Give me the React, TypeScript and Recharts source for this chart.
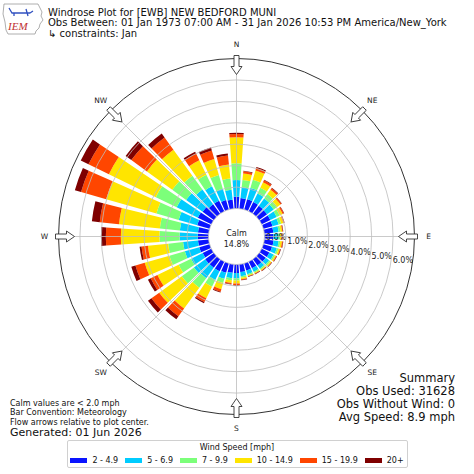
import React from 'react';
import { RadialBarChart, RadialBar, PolarAngleAxis, PolarRadiusAxis } from 'recharts';

// wind direction bins (degrees, meteorological), 10 degree sectors
const DIRS = [
  '0', '10', '20', '30', '40', '50', '60', '70', '80', '90', '100', '110',
  '120', '130', '140', '150', '160', '170', '180', '190', '200', '210', '220', '230',
  '240', '250', '260', '270', '280', '290', '300', '310', '320', '330', '340', '350',
];

const SPEED_BINS = ['2 - 4.9', '5 - 6.9', '7 - 9.9', '10 - 14.9', '15 - 19.9', '20+'];
const COLORS = ['#0a14ff', '#00ccff', '#7cff7a', '#ffe500', '#ff4600', '#7f0000'];

// percent of obs, per direction, per speed bin
const S_2_5 = [
  0.55, 0.5, 0.5, 0.48, 0.47, 0.46, 0.45, 0.44, 0.42, 0.42, 0.43, 0.42,
  0.4, 0.38, 0.36, 0.34, 0.34, 0.36, 0.4, 0.4, 0.45, 0.5, 0.5, 0.5,
  0.45, 0.5, 0.5, 0.5, 0.5, 0.6, 0.7, 0.65, 0.55, 0.55, 0.46, 0.42,
];
const S_5_7 = [
  0.78, 0.5, 0.55, 0.45, 0.42, 0.38, 0.33, 0.3, 0.25, 0.23, 0.24, 0.23,
  0.22, 0.2, 0.19, 0.18, 0.18, 0.2, 0.25, 0.25, 0.3, 0.45, 0.6, 0.65,
  0.6, 0.7, 0.7, 0.85, 0.85, 0.9, 1.1, 0.95, 0.85, 0.75, 0.55, 0.47,
];
const S_7_10 = [
  0.78, 0.35, 0.4, 0.3, 0.25, 0.2, 0.16, 0.12, 0.09, 0.08, 0.08, 0.08,
  0.07, 0.07, 0.06, 0.06, 0.06, 0.07, 0.1, 0.1, 0.2, 0.35, 0.55, 0.7,
  0.65, 0.75, 0.7, 0.94, 0.94, 1.08, 1.08, 0.8, 0.8, 0.6, 0.67, 0.52,
];
const S_10_15 = [
  1.22, 0.3, 0.45, 0.28, 0.25, 0.19, 0.15, 0.11, 0.08, 0.07, 0.08, 0.07,
  0.06, 0.06, 0.05, 0.04, 0.04, 0.07, 0.14, 0.12, 0.3, 0.6, 1.2, 1.3,
  1.1, 1.2, 0.95, 1.8, 1.92, 2.44, 2.44, 1.46, 1.5, 0.75, 0.77, 0.66,
];
const S_15_20 = [
  0.15, 0.1, 0.12, 0.1, 0.08, 0.06, 0.06, 0.04, 0.03, 0.03, 0.04, 0.03,
  0.03, 0.02, 0.02, 0.02, 0.02, 0.03, 0.07, 0.05, 0.12, 0.2, 0.45, 0.45,
  0.35, 0.45, 0.3, 0.7, 0.9, 1.22, 1.06, 0.9, 0.7, 0.35, 0.42, 0.42,
];
const S_20P = [
  0.05, 0.03, 0.05, 0.03, 0.03, 0.02, 0.02, 0.02, 0.02, 0.02, 0.02, 0.02,
  0.02, 0.02, 0.02, 0.02, 0.02, 0.02, 0.03, 0.02, 0.04, 0.06, 0.17, 0.2,
  0.14, 0.2, 0.09, 0.23, 0.37, 0.3, 0.4, 0.33, 0.23, 0.1, 0.14, 0.1,
];
const SERIES = [S_2_5, S_5_7, S_7_10, S_10_15, S_15_20, S_20P];

const COMPASS = ['N', 'NE', 'E', 'SE', 'S', 'SW', 'W', 'NW'];
const PCT_TICKS = [0, 1, 2, 3, 4, 5, 6];
const PCT_MAX = 7;

const TITLE = [
  'Windrose Plot for [EWB] NEW BEDFORD MUNI',
  'Obs Between: 01 Jan 1973 07:00 AM - 31 Jan 2026 10:53 PM America/New_York',
  '\u21b3 constraints: Jan',
];
const SUMMARY = ['Summary', 'Obs Used: 31628', 'Obs Without Wind: 0', 'Avg Speed: 8.9 mph'];
const NOTES = ['Calm values are < 2.0 mph', 'Bar Convention: Meteorology', 'Flow arrows relative to plot center.'];
const CALM = '14.8%';

const data = DIRS.map((dir, i) => {
  const row: Record<string, any> = { dir };
  SERIES.forEach((s, k) => (row[`s${k}`] = s[i]));
  return row;
});

const W = 474;
const CX = 236.5;
const CY = 236.5;
const R_IN = 28;
const R_OUT = 178;
const FONT = '"DejaVu Sans", sans-serif';

const rOf = (v: number) => R_IN + (v / PCT_MAX) * (R_OUT - R_IN);

function PctTick(props: any) {
  const { x, y, payload } = props;
  if (payload.value > 6) return <g />;
  return (
    <text x={x + 2} y={y - 1} fontSize={8} fill="#222" fontFamily={FONT} textAnchor="start">
      {payload.value.toFixed(1)}%
    </text>
  );
}

// grid drawn above the bars, like matplotlib does
function Grid() {
  return (
    <g stroke="#bdbdbd" strokeWidth={0.8} fill="none">
      {PCT_TICKS.map((t) => (
        <circle key={t} cx={CX} cy={CY} r={rOf(t)} />
      ))}
      {COMPASS.map((name, i) => {
        const rad = (i * 45 * Math.PI) / 180;
        return (
          <line
            key={name}
            x1={CX + R_IN * Math.sin(rad)}
            y1={CY - R_IN * Math.cos(rad)}
            x2={CX + R_OUT * Math.sin(rad)}
            y2={CY - R_OUT * Math.cos(rad)}
          />
        );
      })}
    </g>
  );
}

function Compass() {
  return (
    <g>
      {COMPASS.map((name, i) => {
        const a = i * 45;
        const rad = (a * Math.PI) / 180;
        const lx = CX + 192 * Math.sin(rad);
        const ly = CY - 192 * Math.cos(rad);
        return (
          <g key={name}>
            <polygon
              transform={`translate(${CX},${CY}) rotate(${a})`}
              points="-2.5,-181 2.5,-181 2.5,-170 5.5,-170 0,-162 -5.5,-170 -2.5,-170"
              fill="#fff"
              stroke="#333"
              strokeWidth={0.9}
            />
            <text x={lx} y={ly} fontSize={7.5} fontFamily={FONT} fill="#222" textAnchor="middle" dominantBaseline="central">
              {name}
            </text>
          </g>
        );
      })}
    </g>
  );
}

function Logo() {
  return (
    <g>
      <polygon
        points="4,4 38,4 40,8 42,12 41,16 43,20 40,24 39,28 36,31 35,34 8,34 6,30 5,22 3,14"
        fill="none"
        stroke="#999"
        strokeWidth={0.8}
      />
      <path d="M9,8 L12,13 L30,13 M14,13 L14,16 M26,9 L28,16 M30,13 L33,11" stroke="#3050c0" strokeWidth={1.3} fill="none" />
      <text x={8} y={30} fontSize={11} fontStyle="italic" fontFamily="'Liberation Serif', serif" fill="#c03030">
        IEM
      </text>
    </g>
  );
}

export default function App() {
  return (
    <div style={{ position: 'absolute', left: 0, top: 0, width: W, height: W, background: '#fff', fontFamily: FONT }}>
      <RadialBarChart
        width={W}
        height={W}
        data={data}
        cx={CX}
        cy={CY}
        innerRadius={R_IN}
        outerRadius={R_OUT}
        startAngle={85}
        endAngle={-275}
        layout="centric"
        barCategoryGap="10%"
        margin={{ top: 0, right: 0, bottom: 0, left: 0 }}
      >
        <PolarAngleAxis dataKey="dir" type="category" tick={false} tickLine={false} axisLineType="circle" axisLine={{ stroke: '#333', strokeWidth: 1 }} />
        <PolarRadiusAxis type="number" domain={[0, PCT_MAX]} tickCount={8} angle={-10} axisLine={false} tickLine={false} tick={<PctTick />} />
        {SPEED_BINS.map((b, k) => (
          <RadialBar key={b} name={b} dataKey={`s${k}`} stackId="w" fill={COLORS[k]} isAnimationActive={false} />
        ))}
      </RadialBarChart>

      <svg width={W} height={W} style={{ position: 'absolute', left: 0, top: 0, pointerEvents: 'none' }}>
        <Grid />
        <Compass />
        <Logo />
        {TITLE.map((t, i) => (
          <text key={t} x={48} y={15.7 + i * 10.7} fontSize={10} fontFamily={FONT} fill="#111">
            {t}
          </text>
        ))}
        <text x={CX} y={236} fontSize={8} fontFamily={FONT} textAnchor="middle" fill="#222">Calm</text>
        <text x={CX} y={247} fontSize={8} fontFamily={FONT} textAnchor="middle" fill="#222">{CALM}</text>
        {SUMMARY.map((t, i) => (
          <text key={t} x={455} y={382 + i * 13.1} fontSize={11.5} fontFamily={FONT} textAnchor="end" fill="#111">
            {t}
          </text>
        ))}
        {NOTES.map((t, i) => (
          <text key={t} x={10} y={405.7 + i * 9.5} fontSize={8} fontFamily={FONT} fill="#111">
            {t}
          </text>
        ))}
        <text x={10} y={435.7} fontSize={11} fontFamily={FONT} fill="#111">Generated: 01 Jun 2026</text>
      </svg>

      <div
        style={{
          position: 'absolute',
          left: 66.5,
          top: 439.5,
          width: 341,
          height: 28,
          boxSizing: 'border-box',
          border: '1px solid #d0d0d0',
          borderRadius: 2,
          background: '#fff',
          fontSize: 8,
          color: '#111',
        }}
      >
        <div style={{ textAlign: 'center', marginTop: 2, lineHeight: '10px' }}>Wind Speed [mph]</div>
        <div style={{ display: 'flex', justifyContent: 'center', alignItems: 'center', marginTop: 3, lineHeight: '10px' }}>
          {SPEED_BINS.map((b, k) => (
            <div key={b} style={{ display: 'flex', alignItems: 'center', marginRight: k < SPEED_BINS.length - 1 ? 7 : 0 }}>
              <span style={{ display: 'inline-block', width: 17, height: 5.5, background: COLORS[k], marginRight: 5 }} />
              <span>{b}</span>
            </div>
          ))}
        </div>
      </div>
    </div>
  );
}
